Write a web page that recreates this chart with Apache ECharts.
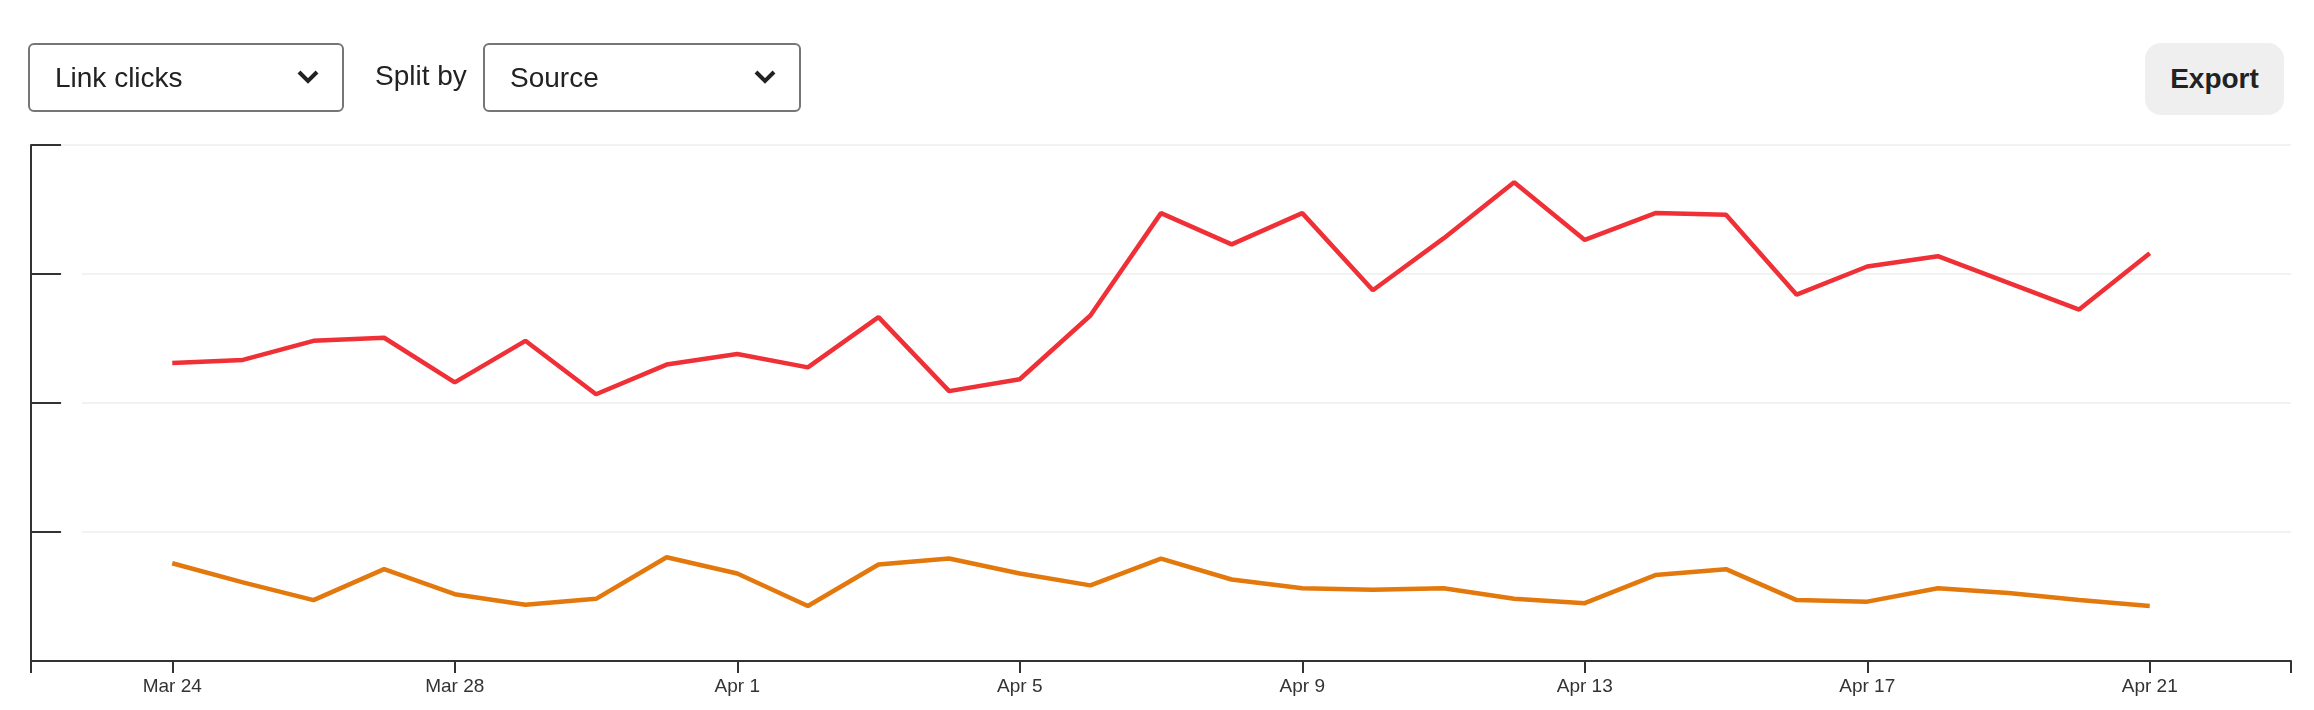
<!DOCTYPE html>
<html><head><meta charset="utf-8">
<script src="https://cdn.jsdelivr.net/npm/echarts@6/dist/echarts.min.js"></script>
<style>
body{margin:0;background:#fff;font-family:"Helvetica Neue",Arial,"Liberation Sans",sans-serif;}
#c{position:absolute;left:0;top:0;width:2314px;height:710px;}
.dd{position:absolute;top:43px;height:69px;border:2px solid #767676;border-radius:6px;box-sizing:border-box;font-size:28px;color:#222;display:flex;align-items:center;padding-left:25px;}
.dd svg{position:absolute;right:22px;top:24px;}
.lbl{position:absolute;top:60px;font-size:28px;color:#222;}
.btn{position:absolute;left:2145px;top:43px;width:139px;height:72px;background:#efefef;border-radius:16px;font-size:28px;font-weight:bold;color:#222;display:flex;align-items:center;justify-content:center;}
#mask{position:absolute;left:62px;top:152px;width:20px;height:500px;background:#fff;}
</style></head><body>
<div id="c"></div>
<div id="mask"></div>
<div class="dd" style="left:28px;width:316px;">Link clicks<svg width="24" height="16"><polyline points="3,3 12,12 21,3" fill="none" stroke="#222" stroke-width="4"/></svg></div>
<div class="lbl" style="left:375px;">Split by</div>
<div class="dd" style="left:483px;width:318px;">Source<svg width="24" height="16"><polyline points="3,3 12,12 21,3" fill="none" stroke="#222" stroke-width="4"/></svg></div>
<div class="btn">Export</div>
<script>
const dates = ["Mar 24","Mar 25","Mar 26","Mar 27","Mar 28","Mar 29","Mar 30","Mar 31","Apr 1","Apr 2","Apr 3","Apr 4","Apr 5","Apr 6","Apr 7","Apr 8","Apr 9","Apr 10","Apr 11","Apr 12","Apr 13","Apr 14","Apr 15","Apr 16","Apr 17","Apr 18","Apr 19","Apr 20","Apr 21"];
const seriesA = [115.5,116.7,124.1,125.3,108.0,124.1,103.4,114.9,119.0,113.8,133.3,104.6,109.2,133.9,173.6,161.5,173.6,143.7,163.8,185.6,163.2,173.6,173.0,142.0,152.9,156.9,146.6,136.2,158.0];
const seriesB = [37.9,30.5,23.6,35.6,25.9,21.8,24.1,40.2,33.9,21.3,37.4,39.7,33.9,29.3,39.7,31.6,28.2,27.6,28.2,24.1,22.4,33.3,35.6,23.6,23.0,28.2,26.4,23.6,21.3];
const tickIdx = [0,4,8,12,16,20,24,28];
const chart = echarts.init(document.getElementById('c'));
const pair = a => a.map((v,i)=>[i,v]);
chart.setOption({
  animation:false,
  grid:{left:31,right:23,top:145,bottom:49},
  xAxis:{type:'value',min:-2,max:30,
    axisLine:{onZero:false,lineStyle:{color:'#333',width:2}},
    axisTick:{customValues:[-2,...tickIdx,30],length:12,lineStyle:{color:'#333',width:2}},
    axisLabel:{customValues:tickIdx,formatter:v=>dates[v]||'',color:'#333',fontSize:19,margin:16},
    splitLine:{show:false}},
  yAxis:{type:'value',min:0,max:200,interval:50,
    axisLine:{show:true,onZero:false,lineStyle:{color:'#333',width:2}},
    axisTick:{show:true,inside:true,length:30,lineStyle:{color:'#333',width:2}},
    axisLabel:{show:false},
    splitLine:{lineStyle:{color:'#eeeeee',width:1.5}}},
  series:[
    {type:'line',data:pair(seriesA),showSymbol:false,lineStyle:{color:'#ef3037',width:4.5},itemStyle:{color:'#ef3037'}},
    {type:'line',data:pair(seriesB),showSymbol:false,lineStyle:{color:'#e3780c',width:4.5},itemStyle:{color:'#e3780c'}}
  ]
});
</script></body></html>
